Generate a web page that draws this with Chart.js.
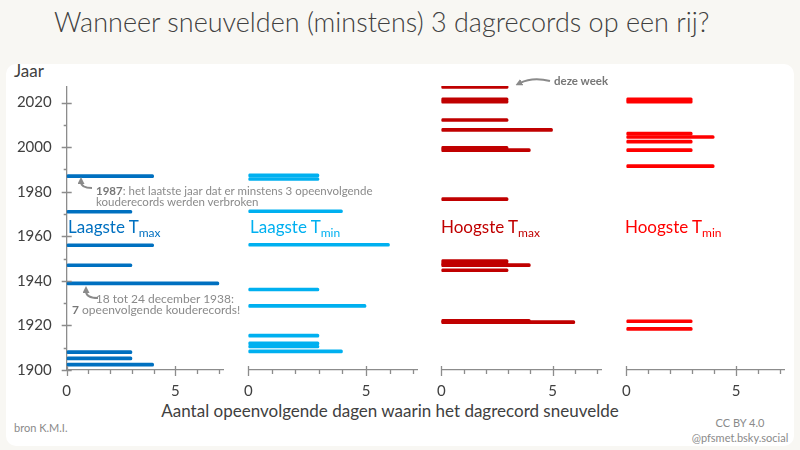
<!DOCTYPE html>
<html>
<head>
<meta charset="utf-8">
<script src="https://cdn.jsdelivr.net/npm/chart.js@4/dist/chart.umd.min.js"></script>
<style>
  html, body { margin: 0; padding: 0; }
  body { width: 800px; height: 450px; background: #f8f7f3; position: relative; overflow: hidden; font-family: Lato, "Open Sans", sans-serif; }
  .sheet { position: absolute; left: 6px; top: 64px; width: 788px; height: 382px; background: #fff; border-radius: 10px; }
  canvas { position: absolute; }
  .txt { position: absolute; white-space: nowrap; line-height: 1; }
  .title { left: 54px; top: 8px; font-size: 27px; color: #404040; font-weight: 300; }
  .panel { font-size: 17px; }
  .panel sub { font-size: 12px; vertical-align: -4px; }
  .note { font-size: 11.5px; color: #8a8a8a; line-height: 10.5px; }
  .note b { color: #777; }
  svg { position: absolute; left: 0; top: 0; }
</style>
</head>
<body>
<div class="sheet"></div>

<div class="txt title">Wanneer sneuvelden (minstens) 3 dagrecords op een rij?</div>
<div class="txt" style="left:14px;top:62px;font-size:17px;color:#404040;">Jaar</div>

<canvas id="LowMax" width="231" height="337" style="left:0px;top:63px;"></canvas>
<canvas id="LowMin" width="193" height="334" style="left:232px;top:66px;"></canvas>
<canvas id="HighMax" width="184" height="334" style="left:425px;top:66px;"></canvas>
<canvas id="HighMin" width="182" height="334" style="left:610px;top:66px;"></canvas>

<div class="txt panel" style="left:68px;top:218px;color:#0070C0;">Laagste T<sub>max</sub></div>
<div class="txt panel" style="left:250px;top:218px;color:#00B0F0;">Laagste T<sub>min</sub></div>
<div class="txt panel" style="left:441px;top:218px;color:#C00000;">Hoogste T<sub>max</sub></div>
<div class="txt panel" style="left:625px;top:218px;color:#FF0000;">Hoogste T<sub>min</sub></div>

<div class="txt note" style="left:96px;top:186px;"><b>1987</b>: het laatste jaar dat er minstens 3 opeenvolgende<br>kouderecords werden verbroken</div>
<div class="txt note" style="left:72px;top:293px;text-align:right;width:162px;line-height:11px;font-size:12px;">18 tot 24 december 1938:<br><b>7</b> opeenvolgende kouderecords!</div>
<div class="txt note" style="left:554px;top:76px;"><b>deze week</b></div>

<div class="txt" style="left:0;width:780px;text-align:center;top:402px;font-size:17px;color:#404040;">Aantal opeenvolgende dagen waarin het dagrecord sneuvelde</div>
<div class="txt" style="left:14px;top:422px;font-size:11px;color:#8a8a8a;">bron K.M.I.</div>
<div class="txt" style="left:690px;width:100px;text-align:center;top:415px;font-size:11px;color:#8a8a8a;line-height:15px;">CC BY 4.0<br>@pfsmet.bsky.social</div>

<svg width="800" height="450">
  <defs>
    <marker id="head" markerUnits="userSpaceOnUse" markerWidth="7" markerHeight="7" refX="2" refY="3.5" orient="auto">
      <path d="M0,0 L7,3.5 L0,7 z" fill="#8a8a8a"/>
    </marker>
  </defs>
  <path d="M92,188 C85,188 81,186 81,182" stroke="#8a8a8a" stroke-width="2" fill="none" marker-end="url(#head)"/>
  <path d="M98,298 C91,298 86,296 86,291" stroke="#8a8a8a" stroke-width="2" fill="none" marker-end="url(#head)"/>
  <path d="M550,81 C538,78 528,79 520,83" stroke="#8a8a8a" stroke-width="2" fill="none" marker-end="url(#head)"/>
</svg>

<script>
(function () {
  "use strict";

  // Years (decimal) and number of consecutive record days
  const lowMaxYears  = [1987, 1971, 1956, 1947, 1938.9, 1908, 1905.2, 1902.4];
  const lowMaxDays   = [4, 3, 4, 3, 7, 3, 3, 4];

  const lowMinYears  = [1987, 1985.4, 1971, 1956, 1936, 1928.7, 1915.4, 1911.9, 1910.5, 1908.3];
  const lowMinDays   = [3, 3, 4, 6, 3, 5, 3, 3, 3, 4];

  const highMaxYears = [2026.6, 2021, 2020, 2011.8, 2007.4, 1999.3, 1998.3, 1976.4, 1948.7, 1947.6, 1946.9, 1944.6, 1922, 1921.4];
  const highMaxDays  = [3, 3, 3, 3, 5, 3, 4, 3, 3, 3, 4, 3, 4, 6];

  const highMinYears = [2021, 2020, 2005.7, 2004.2, 2002.1, 1998.3, 1991.2, 1921.8, 1918.4];
  const highMinDays  = [3, 3, 3, 4, 3, 3, 4, 3, 3];

  // Axis ranges / tick labels
  const yearMin = 1900, yearMax = 2027;
  const dayMin = 0, dayMax = 7.2;
  const yearLabels = [1900, 1920, 1940, 1960, 1980, 2000, 2020];
  const dayLabels = [0, 5];

  // Colors
  const c_lowmax  = '#0070C0';
  const c_lowmin  = '#00B0F0';
  const c_highmax = '#C00000';
  const c_highmin = '#FF0000';
  const c_axis    = '#8c8c8c';
  const c_text    = '#404040';

  Chart.defaults.font.family = 'Lato, "Open Sans", sans-serif';
  Chart.defaults.color = c_text;

  // Draws the tick marks: long crossing ticks for labelled values, short ones otherwise
  const tickMarks = {
    id: 'tickMarks',
    afterDraw(chart) {
      const ctx = chart.ctx;
      ctx.save();
      ctx.strokeStyle = c_axis;
      ctx.lineWidth = 1.3;
      const xs = chart.scales.x;
      const ys = chart.scales.y;
      ctx.beginPath();
      xs.ticks.forEach(function (t) {
        const px = Math.round(xs.getPixelForValue(t.value)) + 0.5;
        const major = dayLabels.indexOf(t.value) >= 0;
        ctx.moveTo(px, ys.bottom + (major ? -4 : 0));
        ctx.lineTo(px, ys.bottom + (major ? 6 : 4));
      });
      if (ys.options.display) {
        ys.ticks.forEach(function (t) {
          const py = Math.round(ys.getPixelForValue(t.value)) + 0.5;
          const major = yearLabels.indexOf(t.value) >= 0;
          ctx.moveTo(xs.left - (major ? 5 : 3), py);
          ctx.lineTo(xs.left + (major ? 5 : 0), py);
        });
      }
      ctx.stroke();
      ctx.restore();
    }
  };

  function makePanel(id, years, days, color, showYears) {
    const el = document.getElementById(id);
    if (el == null) return;
    const points = years.map(function (y, i) { return { x: days[i], y: y }; });
    return new Chart(el.getContext('2d'), {
      type: 'bar',
      data: {
        datasets: [{
          data: points,
          backgroundColor: color,
          borderWidth: 0,
          borderRadius: 1.5,
          borderSkipped: false,
          barThickness: 3
        }]
      },
      options: {
        indexAxis: 'y',
        responsive: false,
        animation: false,
        layout: { padding: { top: 20, left: 10, right: 5, bottom: 0 } },
        scales: {
          x: {
            type: 'linear',
            min: dayMin,
            max: dayMax,
            offset: false,
            grid: { display: false, drawTicks: false, tickLength: 0 },
            border: { display: true, color: c_axis, width: 1.3 },
            ticks: {
              stepSize: 1,
              includeBounds: false,
              autoSkip: false,
              maxRotation: 0,
              padding: 12,
              font: { size: 15 },
              color: c_text,
              callback: function (v) { return dayLabels.indexOf(v) >= 0 ? String(v) : ''; }
            },
            afterFit: function (s) { s.height = 30; }
          },
          y: {
            type: 'linear',
            display: showYears,
            min: yearMin,
            max: yearMax,
            offset: false,
            grid: { display: false, drawTicks: false, tickLength: 0 },
            border: { display: true, color: c_axis, width: 1.3 },
            ticks: {
              stepSize: 10,
              includeBounds: false,
              autoSkip: false,
              padding: 15,
              font: { size: 15 },
              color: c_text,
              callback: function (v) { return yearLabels.indexOf(v) >= 0 ? String(v) : ''; }
            },
            afterFit: function (s) { s.width = showYears ? 56.7 : 0; }
          }
        },
        plugins: {
          legend: { display: false },
          tooltip: { enabled: false }
        }
      },
      plugins: [tickMarks]
    });
  }

  makePanel('LowMax', lowMaxYears, lowMaxDays, c_lowmax, true);
  makePanel('LowMin', lowMinYears, lowMinDays, c_lowmin, false);
  makePanel('HighMax', highMaxYears, highMaxDays, c_highmax, false);
  makePanel('HighMin', highMinYears, highMinDays, c_highmin, false);

})();
</script>
</body>
</html>
